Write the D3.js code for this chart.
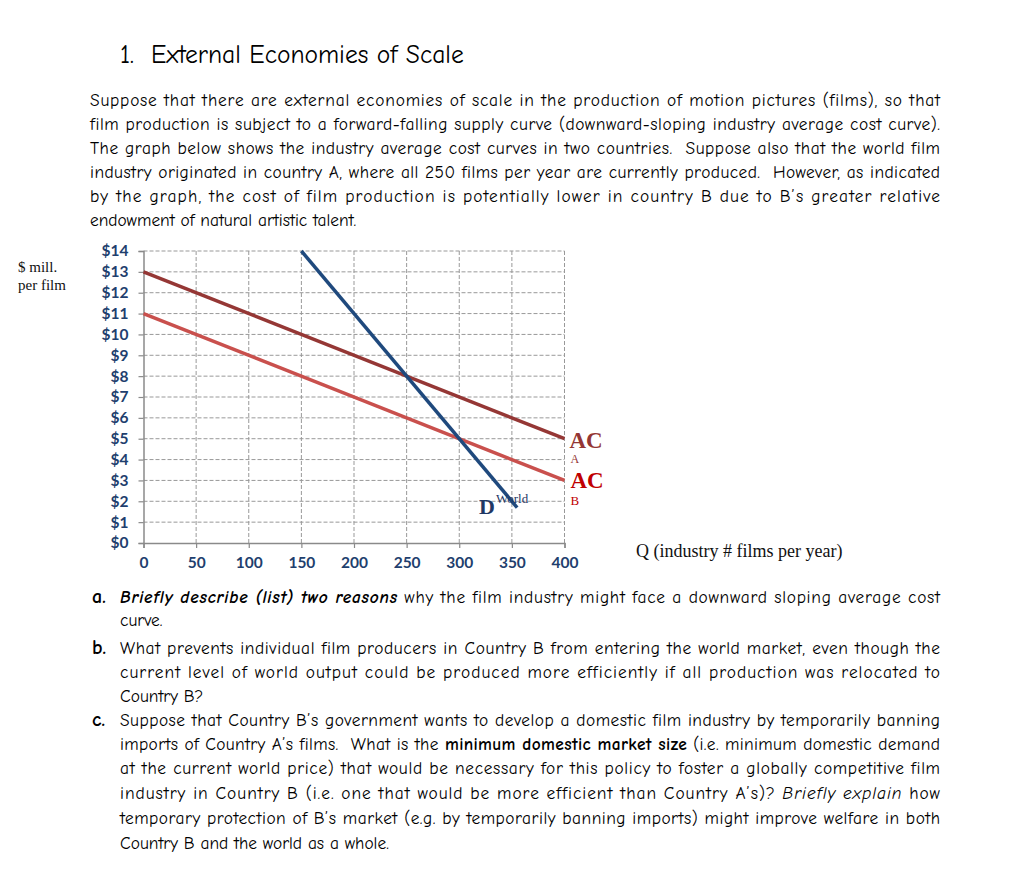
<!DOCTYPE html>
<html><head><meta charset="utf-8">
<script src="https://cdn.jsdelivr.net/npm/d3@7"></script>
<style>
html,body{margin:0;padding:0;background:#fff;}
svg{display:block;}
</style></head>
<body>
<script>
// ---- data ----
const xTicks = [0, 50, 100, 150, 200, 250, 300, 350, 400];
const yTicks = [0, 1, 2, 3, 4, 5, 6, 7, 8, 9, 10, 11, 12, 13, 14];
const acA = [[0, 13], [400, 5]];
const acB = [[0, 11], [400, 3]];
const dWorld = [[150, 14], [355, 1.7]];

const W = 1024, H = 873;
const svg = d3.select("body").append("svg").attr("width", W).attr("height", H);

const bodyFont = "'Comic Sans MS','Comic Neue','Open Sans',sans-serif";
const serif = "'Liberation Serif','Times New Roman',serif";

// ---- text helper ----
function line(y, x, width, segs, justify, size) {
  const t = svg.append("text").attr("x", x).attr("y", y)
    .attr("font-family", bodyFont).attr("font-size", size || 17.4).attr("fill", "#000");
  segs.forEach(s => {
    const [txt, st] = typeof s === "string" ? [s, ""] : s;
    const ts = t.append("tspan").text(txt);
    if (st.includes("b")) ts.attr("font-weight", "bold");
    if (st.includes("i")) ts.attr("font-style", "italic");
  });
  if (justify) t.attr("textLength", width).attr("lengthAdjust", "spacing");
  t.attr("xml:space", "preserve").style("white-space", "pre");
  return t;
}

// title
svg.append("text").attr("x", 120).attr("y", 63).attr("font-family", bodyFont)
  .attr("font-size", 25.5).attr("fill", "#000").style("white-space", "pre")
  .text("1.  External Economies of Scale");

const L = 90, R = 940;
const p1 = [
  "Suppose that there are external economies of scale in the production of motion pictures (films), so that",
  "film production is subject to a forward-falling supply curve (downward-sloping industry average cost curve).",
  "The graph below shows the industry average cost curves in two countries.  Suppose also that the world film",
  "industry originated in country A, where all 250 films per year are currently produced.  However, as indicated",
  "by the graph, the cost of film production is potentially lower in country B due to B\u2019s greater relative",
  "endowment of natural artistic talent."
];
p1.forEach((s, i) => line(106 + i * 24, L, R - L, [s], i < p1.length - 1));

// questions
const QL = 120;
const labels = [["a.", 603], ["b.", 654], ["c.", 726]];
labels.forEach(([t, y]) => svg.append("text").attr("x", 92).attr("y", y)
  .attr("font-family", bodyFont).attr("font-size", 20).attr("font-weight", "bold")
  .attr("fill", "#000").text(t));

const qLines = [
  [603, [["Briefly describe (list) two reasons", "bi"], " why the film industry might face a downward sloping average cost"], true],
  [626, ["curve."], false],
  [654, ["What prevents individual film producers in Country B from entering the world market, even though the"], true],
  [678, ["current level of world output could be produced more efficiently if all production was relocated to"], true],
  [702, ["Country B?"], false],
  [726, ["Suppose that Country B\u2019s government wants to develop a domestic film industry by temporarily banning"], true],
  [750, ["imports of Country A\u2019s films.  What is the ", ["minimum domestic market size", "b"], " (i.e. minimum domestic demand"], true],
  [774, ["at the current world price) that would be necessary for this policy to foster a globally competitive film"], true],
  [799, ["industry in Country B (i.e. one that would be more efficient than Country A\u2019s)? ", ["Briefly explain", "i"], " how"], true],
  [824, ["temporary protection of B\u2019s market (e.g. by temporarily banning imports) might improve welfare in both"], true],
  [849, ["Country B and the world as a whole."], false]
];
qLines.forEach(([y, segs, j]) => line(y, QL, R - QL, segs, j));

// ---- chart ----
const x = d3.scaleLinear().domain([0, 400]).range([143.5, 564.5]);
const y = d3.scaleLinear().domain([0, 14]).range([543, 251]);

const grid = svg.append("g");
grid.selectAll("line.h").data(yTicks.filter(d => d > 0)).join("line")
  .attr("x1", x(0)).attr("x2", x(400)).attr("y1", d => y(d)).attr("y2", d => y(d))
  .attr("stroke", "#999").attr("stroke-width", 1).attr("stroke-dasharray", "4,2");
grid.selectAll("line.v").data(xTicks.filter(d => d > 0)).join("line")
  .attr("y1", y(0)).attr("y2", y(14)).attr("x1", d => x(d)).attr("x2", d => x(d))
  .attr("stroke", "#999").attr("stroke-width", 1).attr("stroke-dasharray", "4,2");

const tickColor = "#1F3F6E";
const xAxis = svg.append("g").attr("transform", `translate(0,${y(0)})`)
  .call(d3.axisBottom(x).tickValues(xTicks).tickSize(5).tickPadding(6).tickFormat(d3.format("d")));
const yAxis = svg.append("g").attr("transform", `translate(${x(0)},0)`)
  .call(d3.axisLeft(y).tickValues(yTicks).tickSize(5).tickPadding(10).tickFormat(d => "$" + d));
[xAxis, yAxis].forEach(a => {
  a.select(".domain").attr("stroke", "#8a8a8a").attr("stroke-width", 1.5);
  a.selectAll(".tick line").attr("stroke", "#8a8a8a").attr("stroke-width", 1.2);
  a.selectAll(".tick text").attr("fill", tickColor).attr("font-family", "Lato, 'Open Sans', sans-serif")
    .attr("font-weight", "bold").attr("font-size", 15.5);
});
xAxis.selectAll(".tick text").attr("dy", "0.9em");

const ln = d3.line().x(d => x(d[0])).y(d => y(d[1]));
const curves = [[acA, "#953735"], [acB, "#C9504D"], [dWorld, "#1F497D"]];
curves.forEach(([d, c]) => svg.append("path").datum(d).attr("d", ln)
  .attr("fill", "none").attr("stroke", c).attr("stroke-width", 3.5));

// curve labels
function lab(xp, yp, txt, size, color, weight) {
  svg.append("text").attr("x", xp).attr("y", yp).attr("font-family", serif)
    .attr("font-size", size).attr("fill", color).attr("font-weight", weight || "normal").text(txt);
}
lab(x(400) + 5, y(5) + 9, "AC", 23, "#943634", "bold");
lab(x(400) + 6, y(5) + 24, "A", 12, "#943634");
lab(x(400) + 6, y(3) + 8, "AC", 23, "#C00000", "bold");
lab(x(400) + 6, y(3) + 25, "B", 13, "#C00000");
lab(479, 514, "D", 22, "#1F3864", "bold");
lab(496, 503, "World", 13, "#1F3864");

// axis titles
lab(18, 272, "$ mill.", 15, "#111");
lab(18, 290, "per film", 15, "#111");
lab(636, 557, "Q (industry # films per year)", 18, "#111");
</script>
</body></html>
